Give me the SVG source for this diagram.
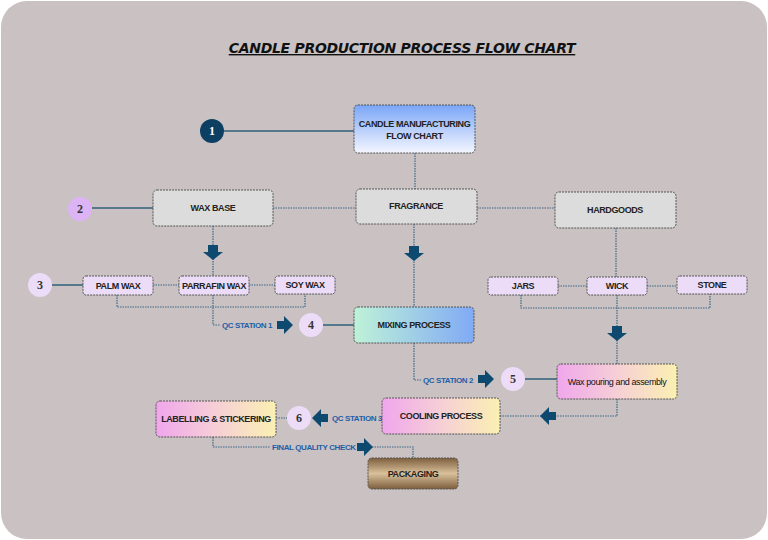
<svg xmlns="http://www.w3.org/2000/svg" width="768" height="540" viewBox="0 0 768 540">
<defs>
<linearGradient id="gBlue" x1="0" y1="0" x2="0" y2="1"><stop offset="0" stop-color="#7aa6f7"/><stop offset="1" stop-color="#f4f6ff"/></linearGradient>
<linearGradient id="gMix" x1="0" y1="0" x2="1" y2="0"><stop offset="0" stop-color="#bff2d8"/><stop offset="1" stop-color="#80aaf5"/></linearGradient>
<linearGradient id="gPY" x1="0" y1="0" x2="1" y2="0"><stop offset="0" stop-color="#f0a6ec"/><stop offset="0.5" stop-color="#f6cfd6"/><stop offset="1" stop-color="#fbf0b2"/></linearGradient>
<linearGradient id="gBr" x1="0" y1="0" x2="0" y2="1"><stop offset="0" stop-color="#7d5e3e"/><stop offset="0.5" stop-color="#d9c09a"/><stop offset="1" stop-color="#7d5e3e"/></linearGradient>
</defs>
<style>
.box{stroke:#555;stroke-width:1;stroke-dasharray:2 1}
.gray{fill:#dcdcdc}.lav{fill:#ecdcf8}
.t{font-family:"Liberation Sans",Arial,sans-serif;font-weight:bold;font-size:9px;fill:#222;text-anchor:middle;dominant-baseline:central;letter-spacing:-0.4px}
.dot{fill:none;stroke:#3d6a86;stroke-width:1.2;stroke-dasharray:1.5 1}
.sol{fill:none;stroke:#2f5f7a;stroke-width:1.5}
.qc{font-family:"Liberation Sans",Arial,sans-serif;font-weight:bold;font-size:8px;fill:#1f5fa8;dominant-baseline:central;letter-spacing:-0.4px}
.num{font-family:"Liberation Serif",serif;font-weight:bold;font-size:12px;text-anchor:middle;dominant-baseline:central;fill:#333}
.arr{fill:#0e4a6f}
</style>
<rect x="0" y="0" width="768" height="540" fill="#ffffff"/>
<rect x="1" y="1" width="766" height="538" rx="26" fill="#c9c1c2"/>
<text x="402" y="53" font-family="'DejaVu Sans',sans-serif" font-weight="bold" font-style="italic" font-size="14" text-anchor="middle" text-decoration="underline" fill="#111" letter-spacing="-0.3">CANDLE PRODUCTION PROCESS FLOW CHART</text>

<g id="connectors">
<path class="sol" d="M224,131H354"/>
<path class="sol" d="M92,208H153"/>
<path class="sol" d="M52,285H83"/>
<path class="sol" d="M323,325H354"/>
<path class="sol" d="M525,379H557"/>
<path class="dot" d="M415,153V189"/>
<path class="dot" d="M273,208H356M477,208H555"/>
<path class="dot" d="M213,226V276M414,224V307"/>
<path class="dot" d="M153,285H179M249,285H275"/>
<path class="dot" d="M117,295V307H305V294"/>
<path class="dot" d="M213,295V325H220"/>
<path class="dot" d="M616,228V277"/>
<path class="dot" d="M558,286H587M647,286H677"/>
<path class="dot" d="M521,295V308H710V294"/>
<path class="dot" d="M617,295V364"/>
<path class="dot" d="M414,343V380H421"/>
<path class="dot" d="M617,399V416H500"/>
<path class="dot" d="M276,418H287"/>
<path class="dot" d="M213,437V447H270M372,447H413V458"/>
<path class="arr" d="M208,245h10v7h5l-10,8l-10,-8h5z"/>
<path class="arr" d="M409,246h10v7h5l-10,8l-10,-8h5z"/>
<path class="arr" d="M612,326h10v7h5l-10,8l-10,-8h5z"/>
<path class="arr" d="M277,321h7v-5l9,9l-9,9v-5h-7z"/>
<path class="arr" d="M478,375h7v-5l9,9l-9,9v-5h-7z"/>
<path class="arr" d="M357,443h7v-5l9,9l-9,9v-5h-7z"/>
<path class="arr" d="M556,412h-7v-5l-9,9l9,9v-5h7z"/>
<path class="arr" d="M328,414h-7v-5l-9,9l9,9v-5h7z"/>
<text class="qc" x="222" y="325">QC STATION 1</text>
<text class="qc" x="423" y="380">QC STATION 2</text>
<text class="qc" x="332" y="418">QC STATION 3</text>
<text class="qc" x="272" y="447">FINAL QUALITY CHECK</text>
</g>

<g id="c1"><circle cx="212" cy="131" r="12" fill="#0d3f63"/><text class="num" x="212" y="131" style="fill:#fff">1</text></g>
<g id="c2"><circle cx="80" cy="209" r="12" fill="#dcb4f5"/><text class="num" x="80" y="209">2</text></g>
<g id="c3"><circle cx="40" cy="285" r="12" fill="#ecdcf8"/><text class="num" x="40" y="285">3</text></g>
<g id="c4"><circle cx="311" cy="325" r="12" fill="#ecdcf8"/><text class="num" x="311" y="325">4</text></g>
<g id="c5"><circle cx="513" cy="379" r="12" fill="#ecdcf8"/><text class="num" x="513" y="379">5</text></g>
<g id="c6"><circle cx="299" cy="418" r="12" fill="#ecdcf8"/><text class="num" x="299" y="418">6</text></g>

<g id="candle"><rect class="box" x="354" y="105" width="121" height="48" rx="4" fill="url(#gBlue)"/><text class="t" x="414.5" y="124">CANDLE MANUFACTURING</text><text class="t" x="414.5" y="136">FLOW CHART</text></g>
<g id="waxbase"><rect class="box gray" x="153" y="190" width="120" height="36" rx="4"/><text class="t" x="213" y="208">WAX BASE</text></g>
<g id="fragrance"><rect class="box gray" x="356" y="189" width="121" height="35" rx="4"/><text class="t" x="416" y="206">FRAGRANCE</text></g>
<g id="hardgoods"><rect class="box gray" x="555" y="192" width="121" height="36" rx="4"/><text class="t" x="615" y="210">HARDGOODS</text></g>
<g id="palm"><rect class="box lav" x="83" y="276" width="70" height="19" rx="3"/><text class="t" x="118" y="285.5">PALM WAX</text></g>
<g id="parrafin"><rect class="box lav" x="179" y="276" width="70" height="19" rx="3"/><text class="t" x="214" y="285.5">PARRAFIN WAX</text></g>
<g id="soy"><rect class="box lav" x="275" y="276" width="60" height="18" rx="3"/><text class="t" x="305" y="285">SOY WAX</text></g>
<g id="jars"><rect class="box lav" x="488" y="277" width="70" height="18" rx="3"/><text class="t" x="523" y="286">JARS</text></g>
<g id="wick"><rect class="box lav" x="587" y="277" width="60" height="18" rx="3"/><text class="t" x="617" y="286">WICK</text></g>
<g id="stone"><rect class="box lav" x="677" y="276" width="70" height="18" rx="3"/><text class="t" x="712" y="285">STONE</text></g>
<g id="mixing"><rect class="box" x="354" y="307" width="120" height="36" rx="4" fill="url(#gMix)"/><text class="t" x="414" y="325">MIXING PROCESS</text></g>
<g id="pouring"><rect class="box" x="557" y="364" width="120" height="35" rx="4" fill="url(#gPY)"/><text class="t" x="617" y="382" style="font-weight:normal;fill:#111">Wax pouring and assembly</text></g>
<g id="cooling"><rect class="box" x="382" y="398" width="118" height="36" rx="4" fill="url(#gPY)"/><text class="t" x="441" y="416">COOLING PROCESS</text></g>
<g id="labelling"><rect class="box" x="156" y="401" width="120" height="36" rx="4" fill="url(#gPY)"/><text class="t" x="216" y="419">LABELLING &amp; STICKERING</text></g>
<g id="packaging"><rect class="box" x="368" y="458" width="90" height="31" rx="4" fill="url(#gBr)"/><text class="t" x="413" y="473.5">PACKAGING</text></g>
</svg>
